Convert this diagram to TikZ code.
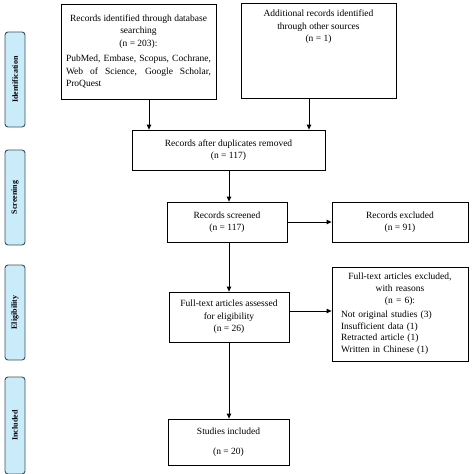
\documentclass[tikz,border=0pt]{standalone}
\usepackage{fontspec}
\setmainfont{Liberation Serif}
\usepackage{xcolor}
\usetikzlibrary{arrows.meta,positioning,shadows}
\definecolor{phaseblue}{HTML}{C9EBFA}
\definecolor{phaseedge}{HTML}{3E5060}
\definecolor{boxshade}{HTML}{9A9A9A}

\begin{document}
\begin{tikzpicture}[x=1pt,y=-1pt,
  flowbox/.style={draw,line width=0.8pt,fill=white,align=center,inner sep=4pt,
    font=\fontsize{9.5}{12.5}\selectfont,
    drop shadow={shadow xshift=1.4pt,shadow yshift=-1.4pt,fill=boxshade,opacity=0.6}},
  phase/.style={draw=phaseedge,line width=0.9pt,fill=phaseblue,rounded corners=3pt,
    minimum width=95pt,minimum height=20pt,inner sep=0pt,rotate=90,
    font=\fontsize{8}{9}\selectfont\bfseries},
  flowarrow/.style={-{Triangle[length=5pt,width=4.5pt]},line width=0.9pt}]
  \useasboundingbox (0,0) rectangle (474,474);

  % phases
  \node[phase] (ident) at (15,79.5) {Identification};
  \node[phase] (screen) at (15,197.5) {Screening};
  \node[phase] (elig) at (15,312.5) {Eligibility};
  \node[phase,minimum width=97pt] (incl) at (15,425.5) {Included};

  % identification
  \node[flowbox,minimum width=155pt,minimum height=95pt,text width=145pt,align=justify]
    (dbase) at (138.5,51.5)
    {{\centering Records identified through database\\ searching\\ (n = 203):\par}
     \vspace{3pt}PubMed, Embase, Scopus, Cochrane, Web of Science, Google Scholar, \mbox{ProQuest}};
  \node[flowbox,minimum width=155pt,minimum height=95pt] (other) at (318.5,50.5) {};
  \node[below=4pt of other.north,align=center,font=\fontsize{9.5}{12.5}\selectfont]
    (othertext) {Additional records identified\\ through other sources\\ (n = 1)};

  % screening
  \node[flowbox,minimum width=193pt,minimum height=40pt] (dedup) at (228.5,150)
    {Records after duplicates removed\\ (n = 117)};
  \node[flowbox,minimum width=120pt,minimum height=40pt] (screened) at (227,222)
    {Records screened\\ (n = 117)};
  \node[flowbox,minimum width=136pt,minimum height=40pt] (recexcl) at (400,222)
    {Records excluded\\ (n = 91)};

  % eligibility
  \node[flowbox,minimum width=120pt,minimum height=50pt] (fulltext) at (229,317)
    {Full-text articles assessed\\ for eligibility\\ (n = 26)};
  \node[flowbox,minimum width=136pt,minimum height=94pt,text width=118pt,inner xsep=9pt,
    align=left,font=\fontsize{9.5}{11.8}\selectfont] (ftexcl) at (400,314)
    {{\centering Full-text articles excluded,\\ with reasons\\ (n = 6):\par}
     \vspace{2pt}Not original studies (3)\\ Insufficient data (1)\\
     Retracted article (1)\\ Written in Chinese (1)};

  % included
  \node[flowbox,minimum width=121pt,minimum height=46pt] (included) at (228.5,442)
    {Studies included\\[8pt] (n = 20)};

  % arrows
  \draw[flowarrow] ([xshift=10.5pt]dbase.south) -- ([xshift=10.5pt]dbase.south |- dedup.north);
  \draw[flowarrow] ([xshift=-9.5pt]other.south) -- ([xshift=-9.5pt]other.south |- dedup.north);
  \draw[flowarrow] (dedup.south -| fulltext.north) -- (screened.north -| fulltext.north);
  \draw[flowarrow] (screened.east) -- (recexcl.west);
  \draw[flowarrow] (screened.south -| fulltext.north) -- (fulltext.north);
  \draw[flowarrow] ([yshift=6pt]fulltext.east) -- ([yshift=6pt]fulltext.east -| ftexcl.west);
  \draw[flowarrow] (fulltext.south) -- (fulltext.south |- included.north);
\end{tikzpicture}
\end{document}
